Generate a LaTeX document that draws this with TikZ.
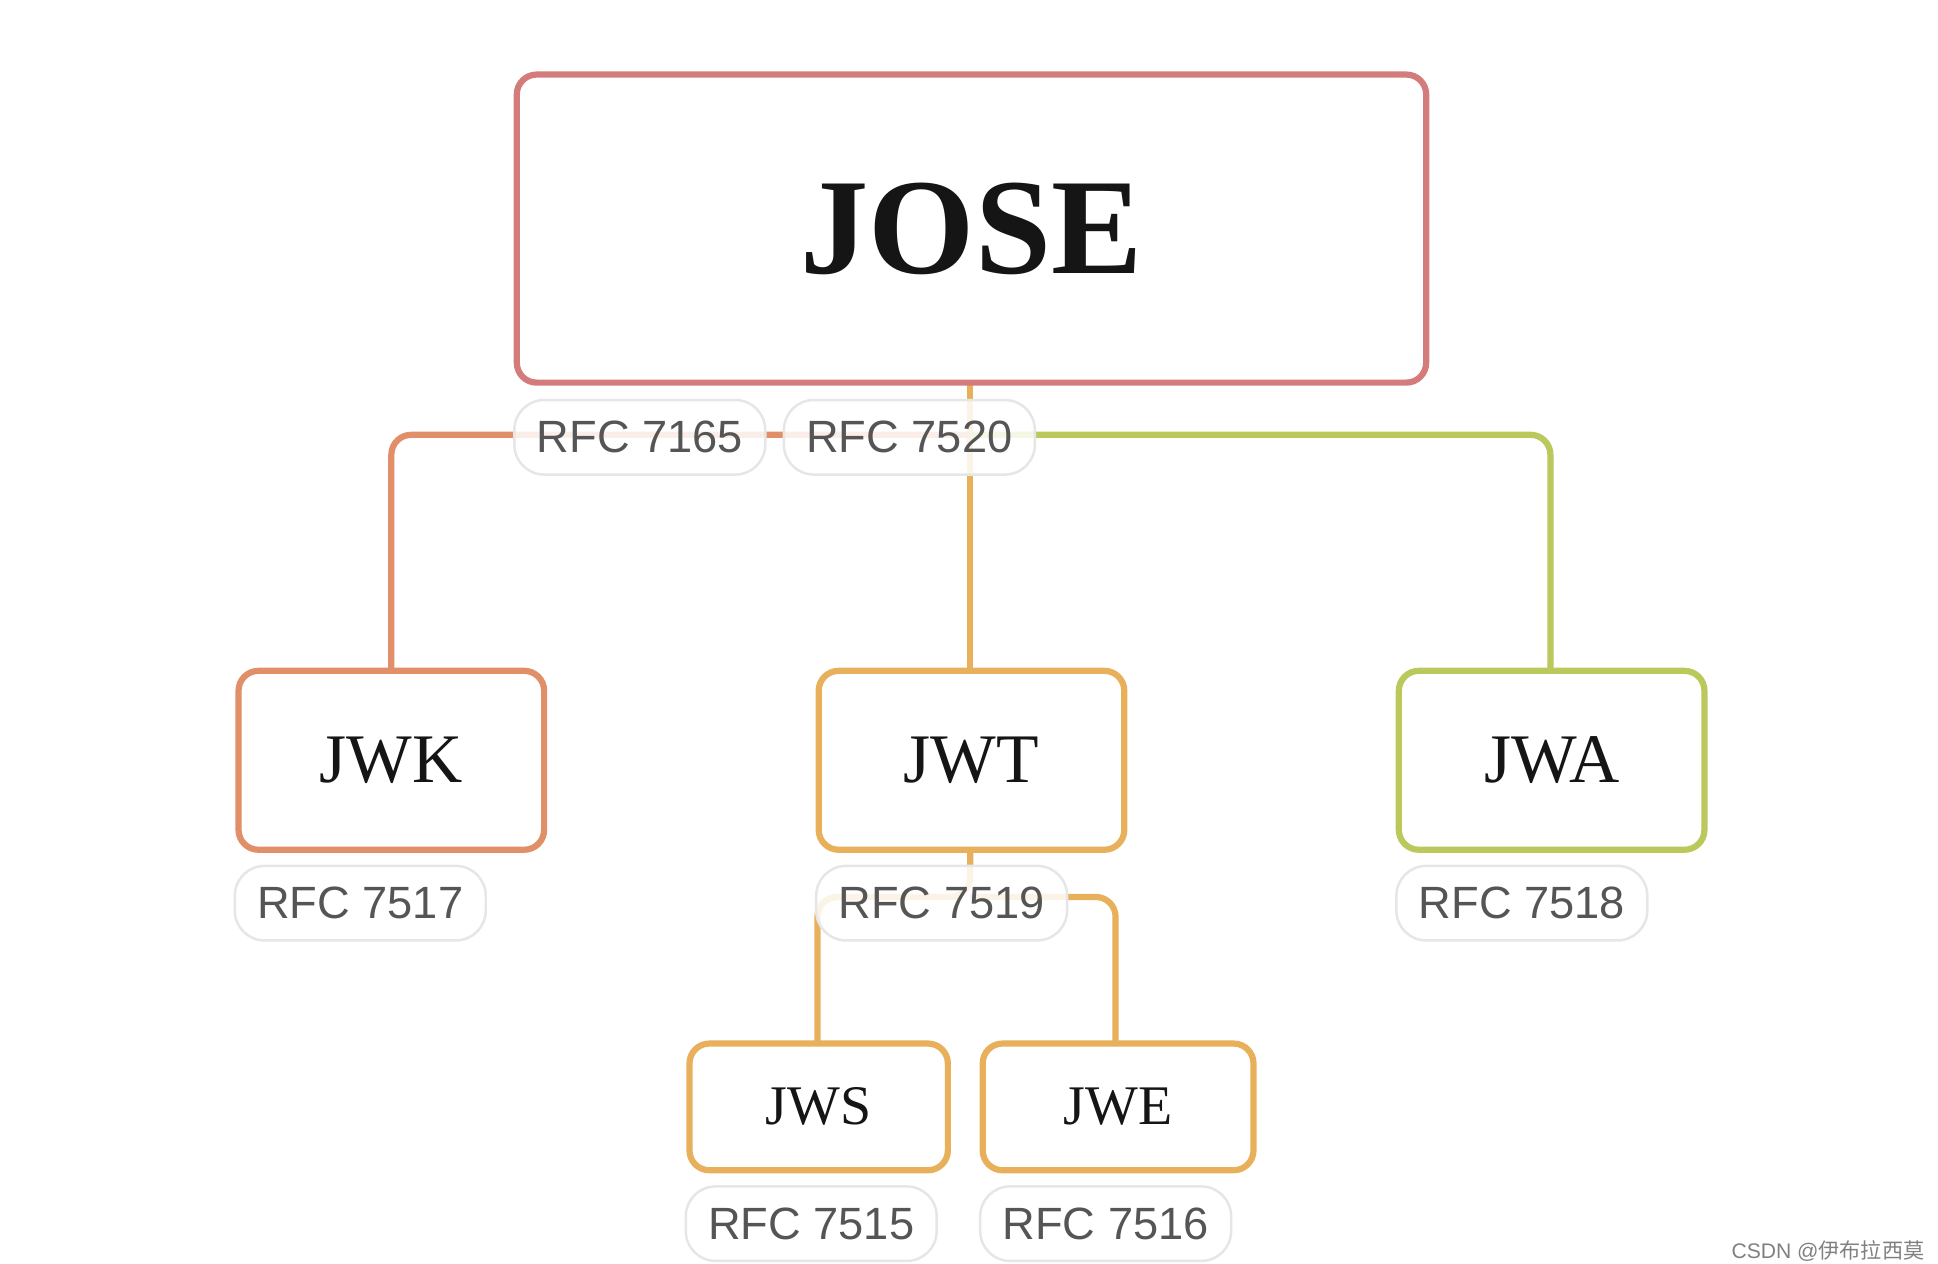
\documentclass[tikz,border=0pt]{standalone}
\usepackage{fontspec}
\setmainfont{Liberation Serif}
\setsansfont{Liberation Sans}
\newfontfamily\cjk{Noto Sans CJK SC}
\definecolor{rose}{HTML}{D47C7C}
\definecolor{orng}{HTML}{E08F68}
\definecolor{ylw}{HTML}{E8B05A}
\definecolor{grn}{HTML}{BAC85C}
\definecolor{lbl}{HTML}{555555}
\definecolor{lblb}{HTML}{E6E6E6}
\definecolor{txt}{HTML}{151515}
\tikzset{
  box/.style={draw, line width=2.5pt, rounded corners=8pt, fill=white, inner sep=0pt, text=txt},
  rfc/.style={draw=lblb, line width=1pt, rounded corners=12pt, fill=white, fill opacity=0.85, text opacity=1,
    text=lbl, font=\sffamily\fontsize{18.2}{22}\selectfont, minimum width=101pt, minimum height=30pt, inner sep=0pt},
  conn/.style={line width=2.5pt, rounded corners=8pt}
}
\begin{document}
\begin{tikzpicture}[x=0.5pt,y=-0.5pt]
\useasboundingbox (0,0) rectangle (1560,1017);
% connectors
\draw[conn,ylw] (781,308) -- (781,540);
\draw[conn,orng] (781,350) -- (315,350) -- (315,540);
\draw[conn,grn] (781,350) -- (1248,350) -- (1248,540);
\draw[conn,ylw] (781,684) -- (781,722) -- (658,722) -- (658,840);
\draw[conn,ylw] (781,722) -- (898,722) -- (898,840);
% boxes
\node[box,draw=rose,minimum width=366pt,minimum height=124pt,font=\bfseries\fontsize{55}{62}\selectfont] (jose) at (782,184) {JOSE};
\node[box,draw=orng,minimum width=123pt,minimum height=72pt,font=\fontsize{28}{32}\selectfont] (jwk) at (315,612) {JWK};
\node[box,draw=ylw,minimum width=123pt,minimum height=72pt,font=\fontsize{28}{32}\selectfont] (jwt) at (782,612) {JWT};
\node[box,draw=ylw,minimum width=123pt,minimum height=72pt,font=\fontsize{28}{32}\selectfont,draw=grn] (jwa) at (1249,612) {JWA};
\node[box,draw=ylw,minimum width=104pt,minimum height=51pt,font=\fontsize{22.5}{26}\selectfont] (jws) at (659,891) {JWS};
\node[box,draw=ylw,minimum width=109pt,minimum height=51pt,font=\fontsize{22.5}{26}\selectfont] (jwe) at (900,891) {JWE};
% labels
\node[rfc] (r7165) at (515,352) {RFC 7165};
\node[rfc] (r7520) at (732,352) {RFC 7520};
\node[rfc] (r7517) at (290,727) {RFC 7517};
\node[rfc] (r7519) at (758,727) {RFC 7519};
\node[rfc] (r7518) at (1225,727) {RFC 7518};
\node[rfc] (r7515) at (653,985) {RFC 7515};
\node[rfc] (r7516) at (890,985) {RFC 7516};
\node[text=gray, font=\sffamily\fontsize{8.5}{10}\selectfont, anchor=east] (wm) at (1556,1007) {CSDN @{\cjk 伊布拉西莫}};
\end{tikzpicture}
\end{document}
